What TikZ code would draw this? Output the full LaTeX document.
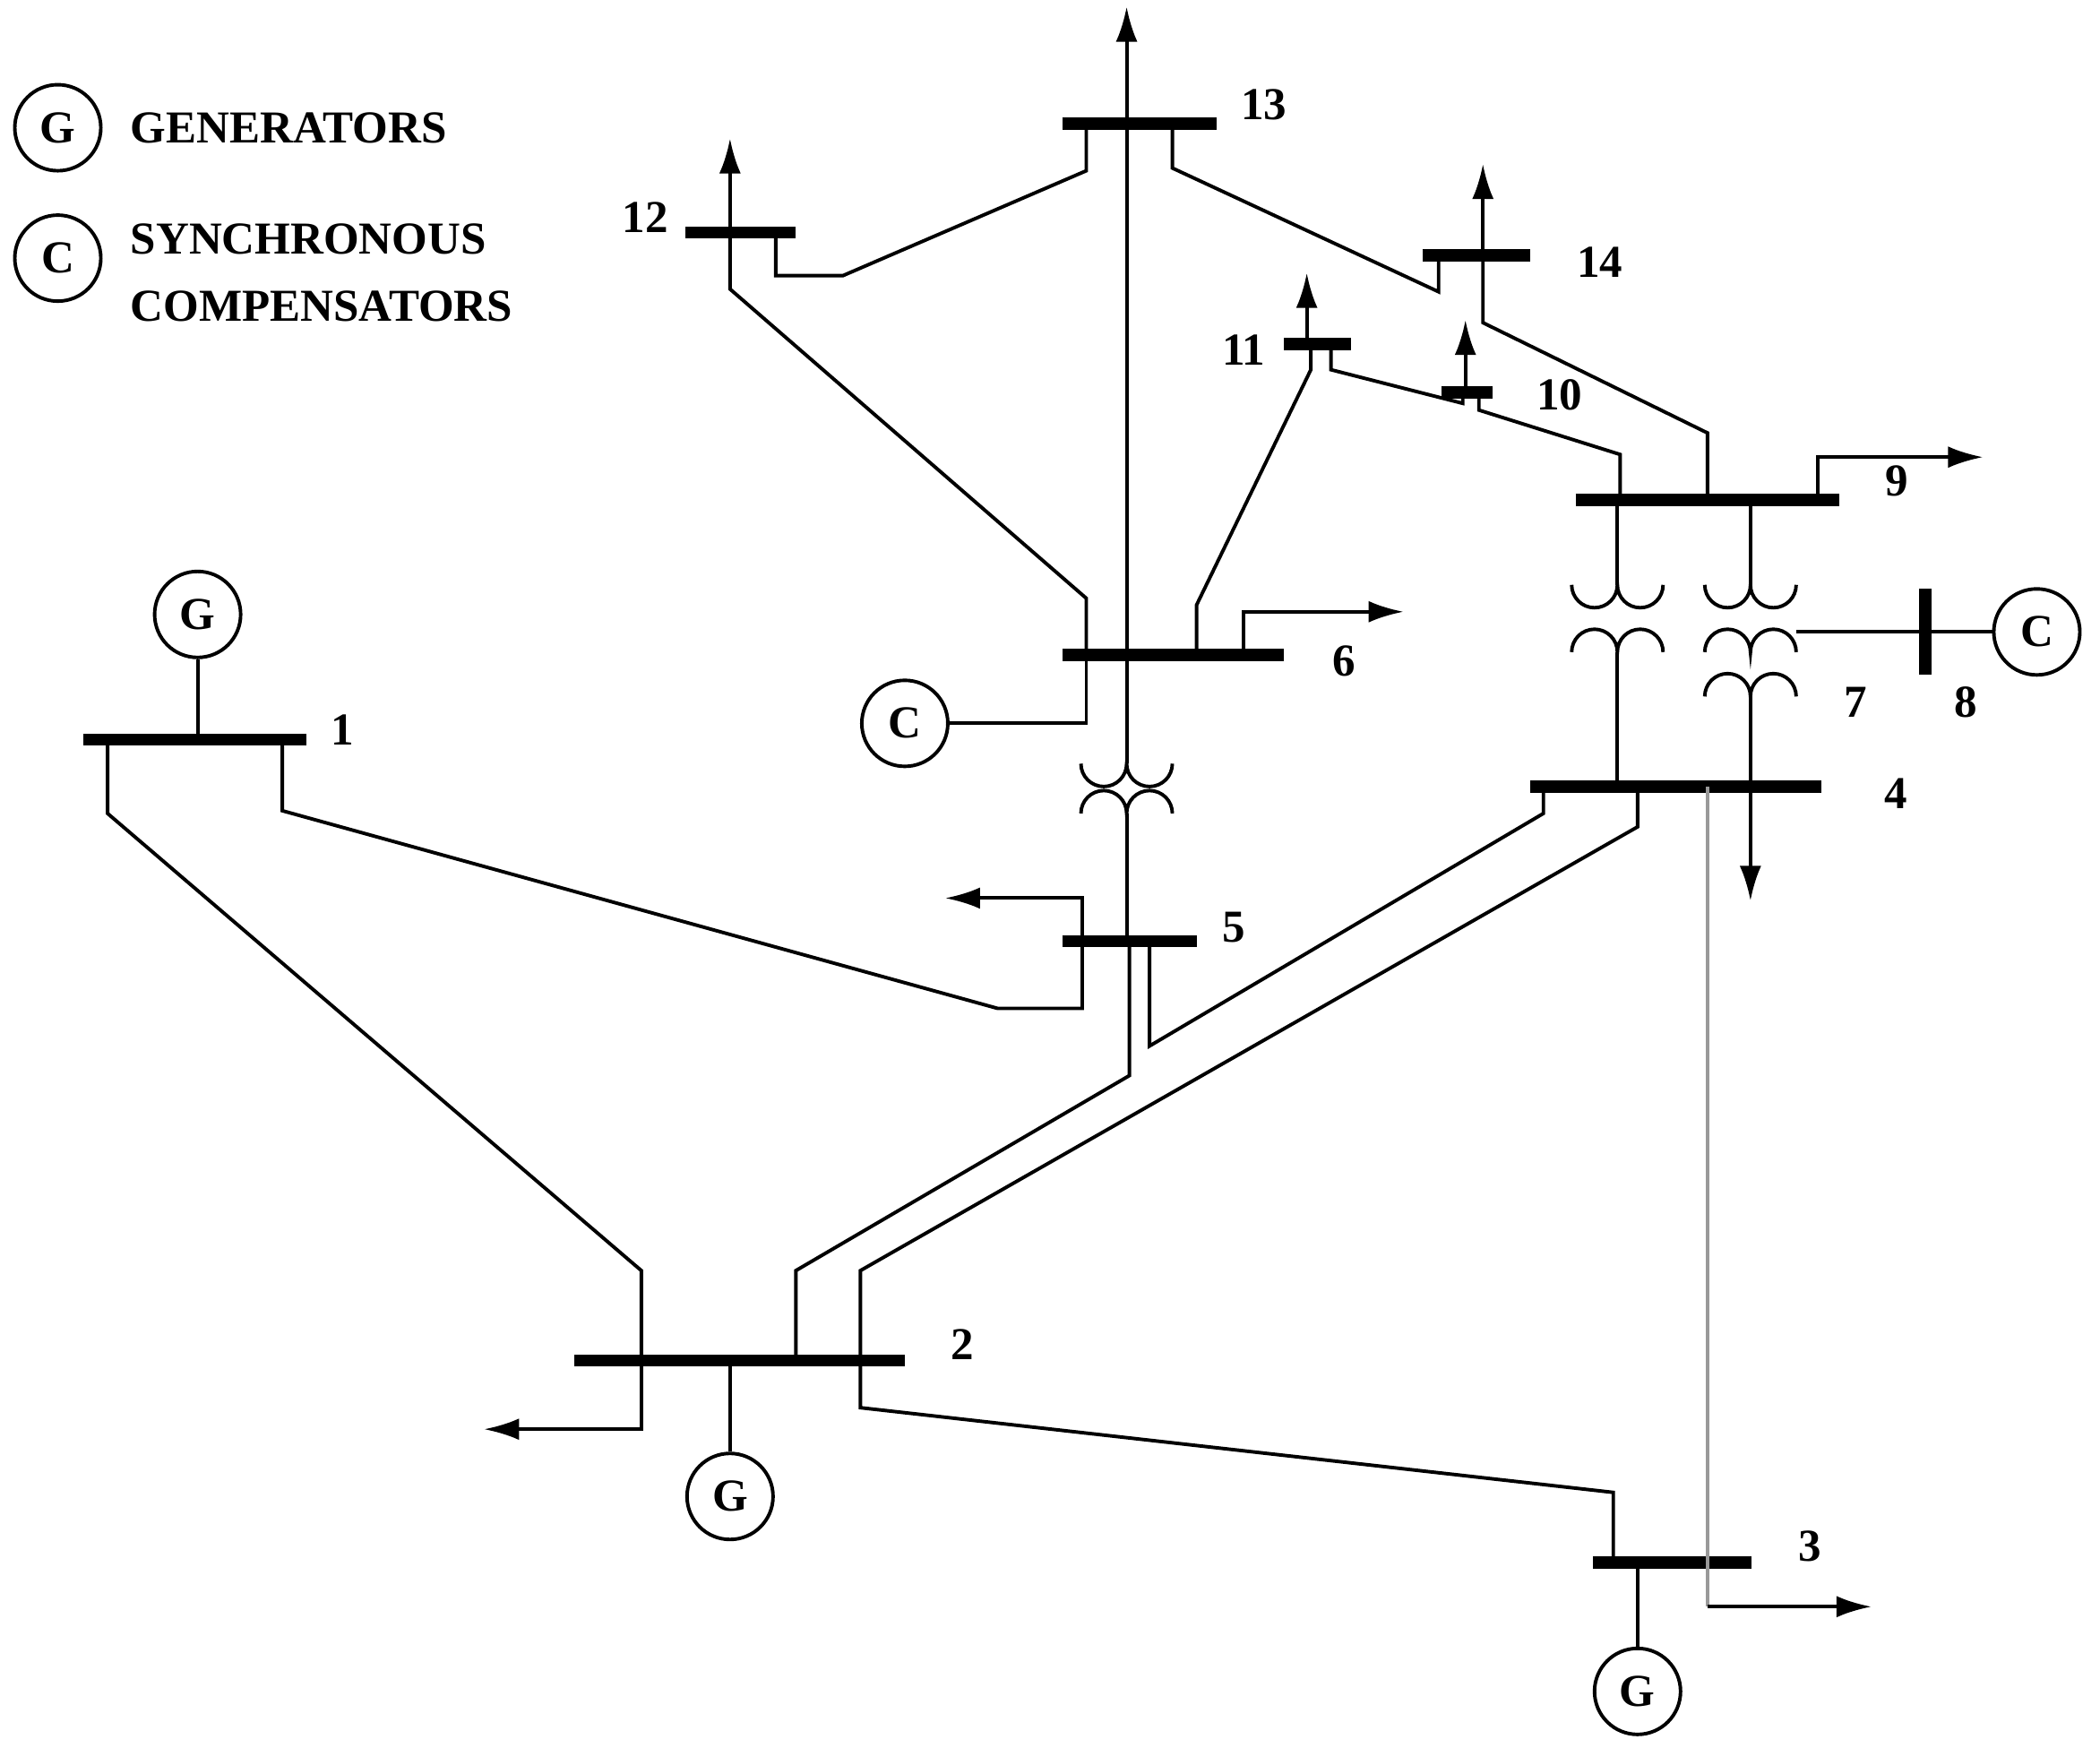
\documentclass[tikz,border=0pt]{standalone}
\usepackage{fontspec}
\setmainfont{Liberation Serif}
\usetikzlibrary{arrows.meta}
\begin{document}
\begin{tikzpicture}[x=1pt,y=-1pt,
  bus/.style={line width=9pt},
  ln/.style={line width=2.6pt, line join=miter},
  gl/.style={line width=2.6pt, draw=gray!80},
  ld/.style={line width=2.6pt, -{Latex[length=26pt,width=16pt]}},
  mach/.style={circle, draw, line width=2.6pt, minimum size=64pt, inner sep=0pt, font=\fontsize{34}{40}\selectfont\bfseries},
  lab/.style={font=\fontsize{34}{40}\selectfont\bfseries, inner sep=0pt},
  cups/.pic={\draw[line width=2.6pt] (-34,0) arc(180:0:17) arc(180:0:17);},
  caps/.pic={\draw[line width=2.6pt] (-34,0) arc(180:360:17) arc(180:360:17);}
]
\useasboundingbox (0,0) rectangle (1562,1300);
% legend
\node[mach] (lg) at (43,95) {G};
\node[lab, anchor=west] at (97,95) {GENERATORS};
\node[mach] (lc) at (43,192) {C};
\node[lab, anchor=west] at (97,178) {SYNCHRONOUS};
\node[lab, anchor=west] at (97,228) {COMPENSATORS};
% buses
\draw[bus] (62,550) -- (228,550);   \node[lab] at (255,543) {1};
\draw[bus] (427,1012) -- (673,1012); \node[lab] at (716,1000) {2};
\draw[bus] (1185,1162) -- (1303,1162); \node[lab] at (1346,1150) {3};
\draw[bus] (1138,585) -- (1355,585); \node[lab] at (1410,590) {4};
\draw[bus] (790,700) -- (890,700);   \node[lab] at (918,690) {5};
\draw[bus] (790,487) -- (955,487);   \node[lab] at (1000,492) {6};
\node[lab] at (1380,522) {7};
\draw[bus] (1432,438) -- (1432,502); \node[lab] at (1462,522) {8};
\draw[bus] (1172,372) -- (1368,372); \node[lab] at (1411,358) {9};
\draw[bus] (1072,292) -- (1110,292); \node[lab] at (1160,294) {10};
\draw[bus] (955,256) -- (1005,256);  \node[lab] at (925,260) {11};
\draw[bus] (510,173) -- (592,173);   \node[lab] at (480,162) {12};
\draw[bus] (790,92) -- (905,92);     \node[lab] at (940,78) {13};
\draw[bus] (1058,190) -- (1138,190); \node[lab] at (1190,195) {14};
% machines
\node[mach] (g1) at (147,457) {G};
\node[mach] (g2) at (543,1113) {G};
\node[mach] (g3) at (1218,1258) {G};
\node[mach] (c6) at (673,538) {C};
\node[mach] (c8) at (1515,470) {C};
\draw[ln] (g1) -- (147,550);
\draw[ln] (g2) -- (543,1012);
\draw[ln] (g3) -- (1218,1162);
\draw[ln] (c6) -- (808,538) -- (808,487);
\draw[ln] (c8) -- (1432,470);
% lines
\draw[ln] (477,1012) -- (477,945) -- (80,605) -- (80,550);        % 1-2
\draw[ln] (210,550) -- (210,603) -- (742,750) -- (805,750) -- (805,700); % 1-5
\draw[ln] (592,1012) -- (592,945) -- (840,800) -- (840,700);       % 2-5
\draw[ln] (640,1012) -- (640,945) -- (1218,615) -- (1218,585);     % 2-4
\draw[ln] (640,1012) -- (640,1047) -- (1200,1110) -- (1200,1162);  % 2-3
\draw[ln] (855,700) -- (855,778) -- (1148,605) -- (1148,585);      % 4-5
\draw[gl] (1270,585) -- (1270,1162);                               % 3-4
\draw[ln] (838,487) -- (838,92);                                   % 6-13
\draw[ln] (543,173) -- (543,215) -- (808,445) -- (808,487);        % 6-12
\draw[ln] (577,173) -- (577,205) -- (627,205) -- (808,127) -- (808,92); % 12-13
\draw[ln] (890,487) -- (890,450) -- (975,275) -- (975,256);        % 6-11
\draw[ln] (990,256) -- (990,275) -- (1088,300) -- (1088,292);      % 10-11
\draw[ln] (1100,292) -- (1100,305) -- (1205,338) -- (1205,372);    % 9-10
\draw[ln] (872,92) -- (872,125) -- (1070,217) -- (1070,190);       % 13-14
\draw[ln] (1103,190) -- (1103,240) -- (1270,322) -- (1270,372);    % 9-14
% transformers
\draw[ln] (838,487) -- (838,568);
\pic at (838,568) {cups};
\pic at (838,605) {caps};
\draw[ln] (838,605) -- (838,700);
\draw[ln] (1203,372) -- (1203,435);
\pic at (1203,435) {cups};
\pic at (1203,485) {caps};
\draw[ln] (1203,485) -- (1203,585);
\draw[ln] (1302,372) -- (1302,435);
\pic at (1302,435) {cups};
\pic at (1302,485) {caps};
\pic at (1302,518) {caps};
\draw[ln] (1336,470) -- (1432,470);
% loads
\draw[ld] (838,92) -- (838,5);
\draw[ld] (543,173) -- (543,103);
\draw[ld] (1103,190) -- (1103,122);
\draw[ld] (972,256) -- (972,203);
\draw[ld] (1090,292) -- (1090,238);
\draw[ld] (1352,372) -- (1352,340) -- (1475,340);
\draw[ld] (925,487) -- (925,455) -- (1044,455);
\draw[ld] (805,700) -- (805,668) -- (703,668);
\draw[ld] (1302,518) -- (1302,670);
\draw[ld] (477,1012) -- (477,1063) -- (360,1063);
\draw[gl] (1270,1162) -- (1270,1195);
\draw[ld] (1270,1195) -- (1392,1195);
\end{tikzpicture}
\end{document}
